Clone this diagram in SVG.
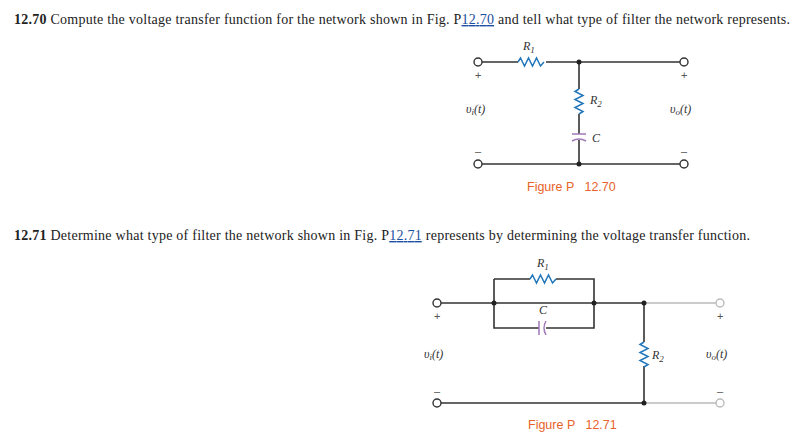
<svg xmlns="http://www.w3.org/2000/svg" width="805" height="442" viewBox="0 0 805 442">
<style>
.t{font-family:"Liberation Serif",serif;font-size:14px;fill:#222}
.b{font-weight:bold}
.a{fill:#1a4ea0;text-decoration:underline}
.w{stroke:#333;stroke-width:1.6;fill:none}
.g{stroke:#bbb;stroke-width:1.6;fill:none}
.r{stroke:#2277bb;stroke-width:1.5;fill:none}
.c{stroke:#a07ab8;stroke-width:1.5;fill:none}
.term{fill:#fff;stroke:#333;stroke-width:1.4}
.i{font-family:"Liberation Serif",serif;font-style:italic;font-size:12px;fill:#333}
.s{font-family:"Liberation Sans",sans-serif;font-size:11px;fill:#555}
.f{font-family:"Liberation Sans",sans-serif;font-size:12.5px;fill:#e8622a;white-space:pre}
.d{fill:#222}
</style>
<text class="t" x="14" y="24" textLength="776" lengthAdjust="spacing"><tspan class="b">12.70</tspan>  Compute the voltage transfer function for the network shown in Fig. P<tspan class="a">12.70</tspan> and tell what type of filter the network represents.</text>
<text class="t" x="14" y="240" textLength="736" lengthAdjust="spacing"><tspan class="b">12.71</tspan>  Determine what type of filter the network shown in Fig. P<tspan class="a">12.71</tspan> represents by determining the voltage transfer function.</text>
<g id="fig1">
<g class="connectors">
<path class="w" d="M482 62H518M546 62H680M579 62V89M579 114V134M579 140V164M482 164H680"/>
</g>
<path class="r" d="M518 62l2.5 -4 4 8 4 -8 4 8 4 -8 4 8 3.5 -4"/>
<path class="r" d="M579 89l-4 2.5 8 4 -8 4 8 4 -8 4 8 4 -4 2.5"/>
<path class="c" d="M572 134h14M572 141q7 -4 14 0"/>
<circle class="term" cx="478" cy="62" r="4"/><circle class="term" cx="684" cy="62" r="4"/>
<circle class="term" cx="478" cy="164" r="4"/><circle class="term" cx="684" cy="164" r="4"/>
<circle class="d" cx="579" cy="62" r="2.5"/><circle class="d" cx="579" cy="164" r="2.5"/>
<text class="i" x="523" y="50">R<tspan font-size="9" dy="3">1</tspan></text>
<text class="i" x="590" y="104">R<tspan font-size="9" dy="3">2</tspan></text>
<text class="i" x="592" y="142">C</text>
<text class="s" x="475" y="79">+</text><text class="s" x="681" y="79">+</text>
<text class="s" x="475" y="155">–</text><text class="s" x="681" y="155">–</text>
<text class="i" x="466" y="113">υ<tspan font-size="9" dy="2">i</tspan><tspan dy="-2">(t)</tspan></text>
<text class="i" x="670" y="113">υ<tspan font-size="9" dy="2">o</tspan><tspan dy="-2">(t)</tspan></text>
<text class="f" x="527" y="191">Figure P   12.70</text>
</g>
<g id="fig2">
<g class="connectors">
<path class="w" d="M441 303H644M494 279H530M556 279H594V328H546M539 328H494V279M644 303V342M644 366V403M441 403H644"/>
<path class="g" d="M644 303H716M644 403H716"/>
</g>
<path class="r" d="M530 279l2.5 -4 4 8 4 -8 4 8 4 -8 4 8 3.5 -4"/>
<path class="r" d="M644 342l-4 2.5 8 4 -8 4 8 4 -8 4 8 4 -4 2.5"/>
<path class="c" d="M539 321v14M546 321q-4 7 0 14"/>
<circle class="term" cx="437" cy="303" r="4"/><circle class="term" cx="437" cy="403" r="4"/>
<circle class="term" cx="720" cy="303" r="4" style="stroke:#bbb"/><circle class="term" cx="720" cy="403" r="4" style="stroke:#bbb"/>
<circle class="d" cx="494" cy="303" r="2.5"/><circle class="d" cx="594" cy="303" r="2.5"/>
<circle class="d" cx="644" cy="303" r="2.5"/><circle class="d" cx="644" cy="403" r="2.5"/>
<text class="i" x="537" y="267">R<tspan font-size="9" dy="3">1</tspan></text>
<text class="i" x="539" y="314">C</text>
<text class="i" x="652" y="359">R<tspan font-size="9" dy="3">2</tspan></text>
<text class="s" x="434" y="320">+</text><text class="s" x="717" y="320">+</text>
<text class="s" x="434" y="395">–</text><text class="s" x="717" y="395">–</text>
<text class="i" x="424" y="358">υ<tspan font-size="9" dy="2">i</tspan><tspan dy="-2">(t)</tspan></text>
<text class="i" x="706" y="358">υ<tspan font-size="9" dy="2">o</tspan><tspan dy="-2">(t)</tspan></text>
<text class="f" x="528" y="429">Figure P   12.71</text>
</g>
</svg>
